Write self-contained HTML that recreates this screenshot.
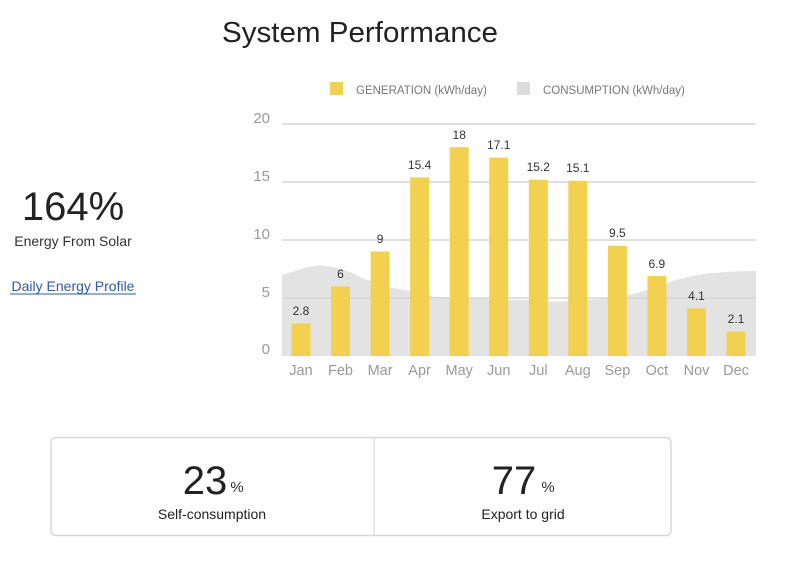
<!DOCTYPE html>
<html><head><meta charset="utf-8"><style>
html,body{margin:0;padding:0;background:#fff;}
svg text{font-family:"Liberation Sans",sans-serif;}
</style></head><body>
<svg width="800" height="561" viewBox="0 0 800 561" xmlns="http://www.w3.org/2000/svg">
<rect width="800" height="561" fill="#fff"/>
<text x="360" y="42" font-size="29" fill="#222" text-anchor="middle" textLength="276" lengthAdjust="spacingAndGlyphs">System Performance</text>
<!-- legend -->
<rect x="330" y="82" width="13" height="13" fill="#f2d150"/>
<text x="356" y="94" font-size="11.5" fill="#777">GENERATION (kWh/day)</text>
<rect x="517" y="82" width="13" height="13" fill="#dcdcdc"/>
<text x="543" y="94" font-size="11.5" fill="#777">CONSUMPTION (kWh/day)</text>
<!-- consumption area -->
<path d="M282,274.8 C300,270 310,265 320,265.5 C340,267 350,272 360,277 C380,285 390,288 400,289 C420,293 430,297 440,297 C460,298 470,298 480,298 C500,299 510,300 520,300 C540,301 550,302 560,301.5 C580,301 590,299 600,299 C620,297 630,295 640,292 C660,287 670,281 680,279 C700,274 710,273 720,272.5 C740,271 750,271 756,271 L756,356 L282,356 Z" fill="#e3e3e3"/>
<!-- gridlines -->
<g stroke="#d6d6d6" stroke-width="1.5">
<line x1="282" y1="124" x2="756" y2="124"/>
<line x1="282" y1="182" x2="756" y2="182"/>
<line x1="282" y1="240" x2="756" y2="240"/>
<line x1="282" y1="298" x2="756" y2="298"/>
</g>
<g font-size="15" fill="#999" text-anchor="end">
<text x="270" y="123">20</text><text x="270" y="181">15</text><text x="270" y="239">10</text><text x="270" y="297">5</text><text x="270" y="354">0</text>
</g>
<!-- bars -->
<g fill="#f2d150">
<rect x="291.5" y="323.5" width="19" height="32.5"/>
<rect x="331" y="286.4" width="19" height="69.6"/>
<rect x="370.6" y="251.6" width="19" height="104.4"/>
<rect x="410.1" y="177.4" width="19" height="178.6"/>
<rect x="449.7" y="147.2" width="19" height="208.8"/>
<rect x="489.2" y="157.6" width="19" height="198.4"/>
<rect x="528.8" y="179.7" width="19" height="176.3"/>
<rect x="568.3" y="180.8" width="19" height="175.2"/>
<rect x="607.9" y="245.8" width="19" height="110.2"/>
<rect x="647.4" y="276" width="19" height="80"/>
<rect x="687" y="308.4" width="19" height="47.6"/>
<rect x="726.5" y="331.6" width="19" height="24.4"/>
</g>
<g font-size="12" fill="#333" text-anchor="middle">
<text x="301" y="315">2.8</text><text x="340.5" y="278">6</text><text x="380.1" y="243">9</text><text x="419.6" y="169">15.4</text><text x="459.2" y="139">18</text><text x="498.7" y="149">17.1</text><text x="538.3" y="171">15.2</text><text x="577.8" y="172">15.1</text><text x="617.4" y="237">9.5</text><text x="656.9" y="268">6.9</text><text x="696.5" y="300">4.1</text><text x="736" y="323">2.1</text>
</g>
<g font-size="14.5" fill="#999" text-anchor="middle">
<text x="301" y="375">Jan</text><text x="340.5" y="375">Feb</text><text x="380.1" y="375">Mar</text><text x="419.6" y="375">Apr</text><text x="459.2" y="375">May</text><text x="498.7" y="375">Jun</text><text x="538.3" y="375">Jul</text><text x="577.8" y="375">Aug</text><text x="617.4" y="375">Sep</text><text x="656.9" y="375">Oct</text><text x="696.5" y="375">Nov</text><text x="736" y="375">Dec</text>
</g>
<!-- left stats -->
<text x="73" y="220" font-size="40" fill="#222" text-anchor="middle" font-weight="300">164%</text>
<text x="73" y="246" font-size="14" fill="#333" text-anchor="middle">Energy From Solar</text>
<text x="73" y="291" font-size="14" fill="#2a5db0" text-anchor="middle">Daily Energy Profile</text>
<line x1="10" y1="294" x2="136" y2="294" stroke="#2a5db0" stroke-width="1"/>
<!-- bottom box -->
<rect x="51" y="437.5" width="620" height="98" rx="5" fill="#fff" stroke="#d8d8d8" stroke-width="1.5"/>
<line x1="374" y1="438" x2="374" y2="535" stroke="#d8d8d8" stroke-width="1.2"/>
<text x="205" y="494" font-size="40" fill="#222" text-anchor="middle">23</text>
<text x="237" y="492" font-size="15" fill="#333" text-anchor="middle">%</text>
<text x="212" y="519" font-size="14" fill="#222" text-anchor="middle">Self-consumption</text>
<text x="514" y="494" font-size="40" fill="#222" text-anchor="middle">77</text>
<text x="548" y="492" font-size="15" fill="#333" text-anchor="middle">%</text>
<text x="523" y="519" font-size="14" fill="#222" text-anchor="middle">Export to grid</text>
</svg>
</body></html>
